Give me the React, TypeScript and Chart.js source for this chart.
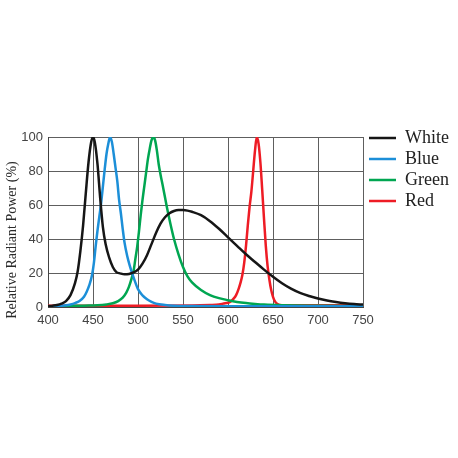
import { useEffect, useRef } from "react"
import { Chart, registerables } from "chart.js"

Chart.register(...registerables)

// wavelength (nm) / relative power (%)
const seriesNames = ["White", "Blue", "Green", "Red"]
const seriesColors = ["#161616", "#1c8fd8", "#00a651", "#ee1c25"]

const whiteNm = [400, 405, 410, 415, 420, 425, 430, 433, 436, 439, 442, 445, 448, 450, 452, 455, 458, 461, 464, 468, 472, 476, 480, 485, 490, 495, 500, 505, 510, 515, 520, 525, 530, 535, 540, 545, 550, 555, 560, 570, 580, 590, 600, 610, 620, 630, 640, 650, 660, 670, 680, 690, 700, 710, 720, 730, 740, 750]
const whiteVal = [0.5, 0.8, 1.2, 2, 3.5, 7, 14, 21, 33, 48, 67, 85, 97, 100, 97, 84, 64, 47, 37, 29, 23.5, 20.5, 19.8, 19.2, 19.4, 20.3, 22, 25.5, 30.5, 37, 43.5, 49, 52.8, 55.2, 56.5, 57, 57, 56.7, 56, 54, 50.5, 46, 41, 36, 31, 26.5, 22, 17.8, 14, 10.8, 8.3, 6.5, 5, 3.8, 2.9, 2.2, 1.7, 1.4]

const blueNm = [400, 410, 420, 425, 430, 435, 440, 443, 446, 449, 451, 453, 455, 457, 459, 461, 463, 465, 467, 469, 471, 473, 475, 477, 479, 481, 483, 485, 488, 491, 494, 497, 500, 505, 510, 515, 520, 530, 540, 560, 600, 650, 700, 750]
const blueVal = [0.3, 0.5, 1, 1.5, 2.3, 3.5, 6, 9, 13, 19, 26, 36, 45, 53, 61, 71, 81, 90, 96, 100, 97, 90, 82, 74, 63, 55, 46, 38, 30, 24, 19, 14.5, 10.5, 6.8, 4.5, 3, 2, 1.2, 0.8, 0.6, 0.5, 0.5, 0.5, 0.5]

const greenNm = [400, 420, 440, 455, 465, 472, 478, 483, 487, 490, 493, 495, 497, 499, 501, 503, 505, 507, 509, 511, 513, 515, 517, 519, 521, 523, 525, 528, 532, 536, 540, 545, 550, 555, 560, 570, 580, 590, 600, 610, 620, 630, 640, 660, 700, 750]
const greenVal = [0.3, 0.5, 0.8, 1, 1.5, 2.2, 3.5, 5.5, 8.5, 12, 17, 21, 28, 35, 44, 54, 63, 71, 79, 87, 93, 98, 100, 98, 92, 84, 78, 70, 59, 49, 40, 31, 23.5, 18, 14.5, 10, 7, 5.2, 4, 3, 2.3, 1.8, 1.4, 1, 0.7, 0.5]

const redNm = [400, 500, 560, 580, 590, 595, 600, 603, 606, 609, 612, 614, 616, 618, 620, 622, 624, 626, 628, 630, 632, 634, 636, 638, 640, 642, 644, 646, 648, 650, 652, 655, 660, 670, 750]
const redVal = [0.8, 0.8, 0.9, 1.2, 1.5, 2, 2.5, 3.2, 4.8, 7, 11, 14.5, 19, 26, 36, 48, 59, 68, 80, 92, 100, 96, 85, 69, 52, 36, 24, 16, 10, 6, 3.5, 1.8, 1.1, 1, 1]

const wavelengthTicks = [400, 450, 500, 550, 600, 650, 700, 750]
const powerTicks = [0, 20, 40, 60, 80, 100]
const yTitle = "Relative Radiant Power (%)"

const seriesNm = [whiteNm, blueNm, greenNm, redNm]
const seriesVal = [whiteVal, blueVal, greenVal, redVal]

const yTitlePlugin = {
    id: "yTitle",
    afterDraw(chart: any) {
        const ctx = chart.ctx
        ctx.save()
        ctx.translate(12, 240)
        ctx.rotate(-Math.PI / 2)
        ctx.font = '14px "Liberation Serif"'
        ctx.fillStyle = "#2a2a2a"
        ctx.textAlign = "center"
        ctx.textBaseline = "middle"
        ctx.fillText(yTitle, 0, 0)
        ctx.restore()
    }
}

const SpectrumChart = () => {
    const canvasRef = useRef<HTMLCanvasElement>(null)

    useEffect(() => {
        if (!canvasRef.current) return

        const datasets = seriesNames.map((name, i) => ({
            label: name,
            data: seriesNm[i].map((nm, j) => ({ x: nm, y: seriesVal[i][j] })),
            borderColor: seriesColors[i],
            backgroundColor: seriesColors[i],
            borderWidth: 2.5,
            pointRadius: 0,
            cubicInterpolationMode: "monotone" as const,
            fill: false
        }))

        const tickFont = { family: '"Liberation Sans", Arial, sans-serif', size: 13 }

        const myChart = new Chart(canvasRef.current, {
            type: "line",
            data: { datasets },
            options: {
                animation: false,
                responsive: true,
                maintainAspectRatio: false,
                layout: { padding: { top: 126, bottom: 121, left: 0, right: 0 } },
                scales: {
                    x: {
                        type: "linear",
                        min: wavelengthTicks[0],
                        max: wavelengthTicks[wavelengthTicks.length - 1],
                        afterBuildTicks: (s: any) => { s.ticks = wavelengthTicks.map(v => ({ value: v })) },
                        ticks: { font: tickFont, color: "#444", padding: 6, maxRotation: 0 },
                        grid: { color: "#5e5e5e", lineWidth: 1, drawTicks: false },
                        border: { color: "#444" },
                        afterFit: (s: any) => { s.height = 30 }
                    },
                    y: {
                        type: "linear",
                        min: powerTicks[0],
                        max: powerTicks[powerTicks.length - 1],
                        afterBuildTicks: (s: any) => { s.ticks = powerTicks.map(v => ({ value: v })) },
                        ticks: { font: tickFont, color: "#444", padding: 5 },
                        grid: { color: "#5e5e5e", lineWidth: 1, drawTicks: false },
                        border: { color: "#444" },
                        afterFit: (s: any) => { s.width = 48 }
                    },
                    xTop: {
                        type: "linear",
                        position: "top",
                        grid: { display: false, drawTicks: false },
                        ticks: { display: false },
                        border: { display: false },
                        afterFit: (s: any) => { s.height = 11 }
                    },
                    yRight: {
                        type: "linear",
                        position: "right",
                        grid: { display: false, drawTicks: false },
                        ticks: { display: false },
                        border: { display: false },
                        afterFit: (s: any) => { s.width = 3 }
                    }
                },
                plugins: {
                    tooltip: { enabled: false },
                    legend: {
                        position: "right",
                        align: "start",
                        maxWidth: 92,
                        labels: {
                            usePointStyle: true,
                            pointStyle: "line",
                            pointStyleWidth: 27,
                            padding: 3,
                            color: "#222",
                            font: { family: '"Liberation Serif", "Times New Roman", serif', size: 18 }
                        }
                    }
                }
            },
            plugins: [yTitlePlugin]
        })

        return () => {
            myChart.destroy()
        }
    }, [])

    return (
        <div style={{ position: "absolute", left: 0, top: 0, width: 458, height: 458 }}>
            <canvas ref={canvasRef}></canvas>
        </div>
    )
}

export default function App() {
    return <SpectrumChart />
}
